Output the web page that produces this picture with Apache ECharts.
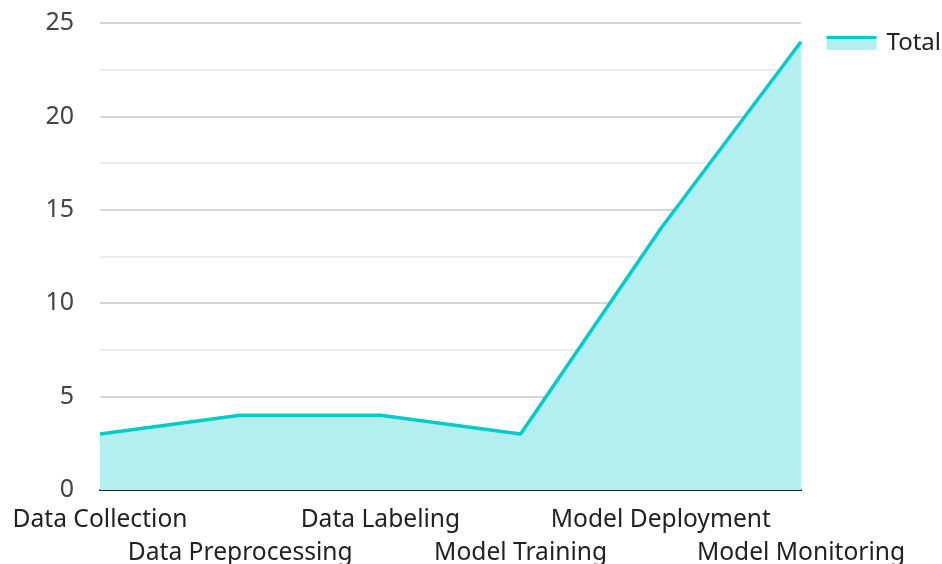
<!DOCTYPE html>
<html>
<head>
<meta charset="utf-8">
<script src="https://cdn.jsdelivr.net/npm/echarts@6/dist/echarts.min.js"></script>
<style>html,body{margin:0;padding:0;background:#fff;}#c{width:942px;height:564px;}</style>
</head>
<body>
<div id="c"></div>
<script>
const categories = ['Data Collection', 'Data Preprocessing', 'Data Labeling', 'Model Training', 'Model Deployment', 'Model Monitoring'];
const totalValues = [3, 4, 4, 3, 14, 24];
const seriesName = 'Total';
const lineColor = '#00CCCC';
const areaColor = '#B2EFEE';

const chart = echarts.init(document.getElementById('c'));
chart.setOption({
  animation: false,
  textStyle: { fontFamily: 'Noto Sans' },
  grid: { left: 100, right: 141, top: 23, bottom: 74, containLabel: false, outerBoundsMode: 'none' },
  legend: {
    data: [seriesName],
    right: -4,
    top: 26,
    itemWidth: 50,
    itemHeight: 14,
    icon: 'rect',
    itemStyle: {
      color: new echarts.graphic.LinearGradient(0, 0, 0, 1, [
        { offset: 0, color: lineColor },
        { offset: 0.22, color: lineColor },
        { offset: 0.22, color: areaColor },
        { offset: 1, color: areaColor }
      ]),
      borderWidth: 0
    },
    lineStyle: { width: 0 },
    textStyle: { fontSize: 24, color: '#222', fontFamily: 'Noto Sans', padding: [0, 0, 0, 5] }
  },
  xAxis: {
    type: 'category',
    data: categories,
    boundaryGap: false,
    axisLine: { show: true, lineStyle: { color: '#222', width: 2 } },
    axisTick: { show: false },
    splitLine: { show: false },
    axisLabel: {
      interval: 0,
      fontSize: 24.6,
      color: '#222',
      margin: 13,
      lineHeight: 33,
      formatter: function (v, i) { return i % 2 === 1 ? '\n' + v : v; }
    }
  },
  yAxis: {
    type: 'value',
    min: 0,
    max: 25,
    interval: 5,
    axisLine: { show: false },
    axisTick: { show: false },
    axisLabel: { fontSize: 25, color: '#444', margin: 26 },
    splitLine: { show: true, lineStyle: { color: '#c8c8c8', width: 1.5 } },
    minorTick: { show: false, splitNumber: 2 },
    minorSplitLine: { show: true, lineStyle: { color: '#e8e8e8', width: 1.5 } }
  },
  series: [{
    name: seriesName,
    type: 'line',
    data: totalValues,
    symbol: 'none',
    lineStyle: { color: lineColor, width: 3.5 },
    itemStyle: { color: lineColor },
    areaStyle: { color: areaColor, opacity: 1 }
  }]
});
</script>
</body>
</html>
